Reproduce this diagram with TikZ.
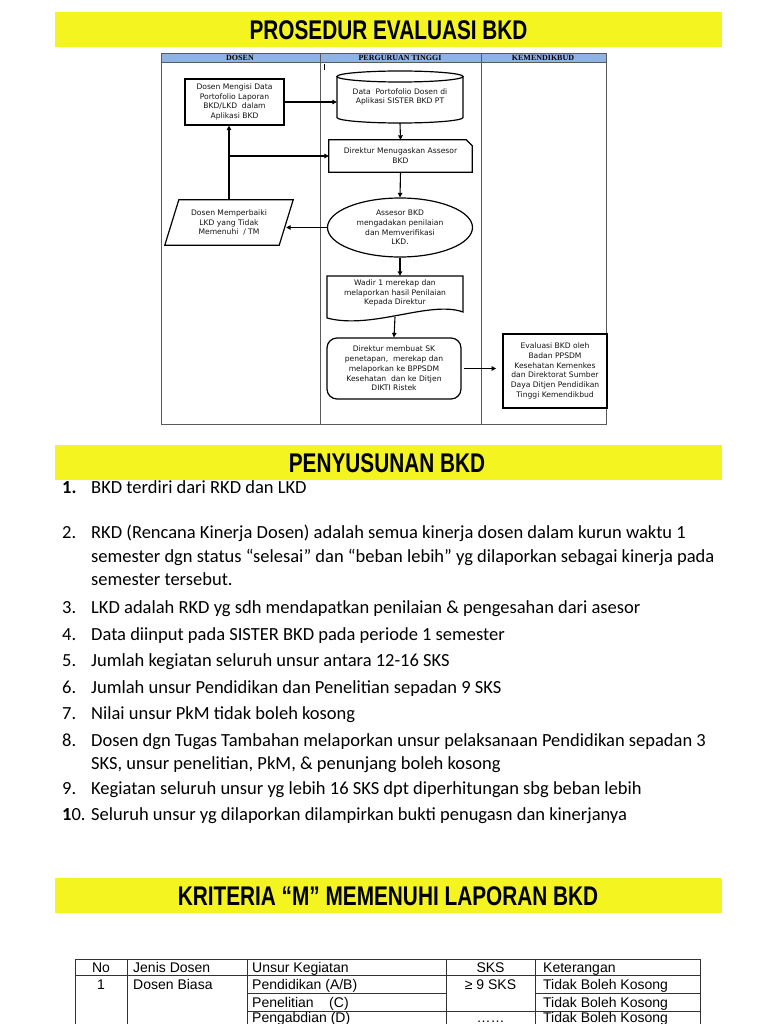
\documentclass[tikz,border=0pt]{standalone}
\usepackage{fontspec}
\usepackage{graphicx}
\setmainfont{Carlito}
\newfontfamily\arialf{Liberation Sans}
\newfontfamily\flowf{DejaVu Sans}
\newfontfamily\serf{Liberation Serif}
\usetikzlibrary{arrows.meta,shapes.geometric}
\definecolor{barYellow}{RGB}{244,245,32}
\definecolor{hdrblue}{RGB}{141,180,226}
\definecolor{framec}{RGB}{90,90,90}
\definecolor{ftext}{RGB}{20,20,20}
\begin{document}
\begin{tikzpicture}[x=1pt,y=-1pt,
  headbar/.style={fill=barYellow,draw=none},
  headtxt/.style={font=\arialf\bfseries\fontsize{27}{29}\selectfont,inner sep=0,text=black},
  colhead/.style={font=\serf\bfseries\fontsize{8}{9}\selectfont,inner sep=0},
  ftxt/.style={align=center,font=\flowf\fontsize{7.6}{9.8}\selectfont,inner sep=0,text=ftext},
  fbox/.style={ftxt,draw=black,line width=1.2pt},
  shp/.style={line width=1.2pt},
  arr/.style={-{Triangle[length=4.5pt,width=4.5pt]},line width=1.1pt},
  num/.style={anchor=base west,inner sep=0,font=\fontsize{18.5}{23}\selectfont},
  itm/.style={anchor=base west,inner sep=0,font=\fontsize{18.5}{23}\selectfont},
  tbl/.style={font=\arialf\fontsize{14}{16}\selectfont,inner sep=0,anchor=base west},
  tblc/.style={font=\arialf\fontsize{14}{16}\selectfont,inner sep=0,anchor=base},
  rulec/.style={draw=black!80,line width=0.8pt}
]
\useasboundingbox[fill=white] (0,0) rectangle (768,1024);

% ---------- heading bars ----------
\path[headbar] (55,12) rectangle (722,47);
\node[headtxt] (h1) at (388.5,30) {\scalebox{0.77}[1]{PROSEDUR EVALUASI BKD}};
\path[headbar] (55,445) rectangle (722,480);
\node[headtxt] (h2) at (387,463) {\scalebox{0.77}[1]{PENYUSUNAN BKD}};
\path[headbar] (55,878) rectangle (722,913);
\node[headtxt] (h3) at (388,896) {\scalebox{0.77}[1]{KRITERIA “M” MEMENUHI LAPORAN BKD}};

% ---------- flowchart frame ----------
\fill[hdrblue] (161,53) rectangle (606,62);
\draw[framec,line width=0.8pt] (161,53) rectangle (606,424);
\draw[framec,line width=0.8pt] (161,62) -- (606,62);
\draw[framec,line width=0.8pt] (320,53) -- (320,424);
\draw[framec,line width=0.8pt] (481,53) -- (481,424);
\node[colhead] (c1) at (240,57.8) {DOSEN};
\node[colhead] (c2) at (400,57.8) {PERGURUAN TINGGI};
\node[colhead] (c3) at (543,57.8) {KEMENDIKBUD};
\draw[line width=0.8pt] (324,64) -- (324,70);

% ---------- flowchart nodes ----------
\node[fbox,minimum width=99,minimum height=46] (n1) at (234.5,102)
  {Dosen Mengisi Data\\Portofolio Laporan\\BKD/LKD\ \ dalam\\Aplikasi BKD};

\node[ftxt,minimum width=126,minimum height=52] (n2) at (400,97)
  {Data\ \ Portofolio Dosen di\\Aplikasi SISTER BKD PT};
\draw[shp] (337,76.5) -- (337,117.5) arc[start angle=180,end angle=0,x radius=63,y radius=5.5] -- (463,76.5);
\draw[shp] (400,76.5) ellipse[x radius=63,y radius=5.5];

\node[ftxt,minimum width=143,minimum height=32] (n3) at (400.5,156)
  {Direktur Menugaskan Assesor\\BKD};
\draw[shp] (n3.south west) -- (n3.north west) -- ([xshift=-6pt]n3.north east)
  -- ([yshift=-6pt]n3.north east) -- (n3.south east) -- cycle;

\node[fbox,ellipse,minimum width=145,minimum height=59,inner sep=0] (n4) at (400,227.5)
  {Assesor BKD\\mengadakan penilaian\\dan Memverifikasi\\LKD.};

\node[ftxt,minimum width=114,minimum height=45] (n5) at (229,222.5)
  {Dosen Memperbaiki\\LKD yang Tidak\\Memenuhi\ \ / TM};
\draw[shp] ([xshift=7pt]n5.north west) -- ([xshift=7pt]n5.north east)
  -- ([xshift=-7pt]n5.south east) -- ([xshift=-7pt]n5.south west) -- cycle;

\node[ftxt,minimum width=136,minimum height=34] (n6) at (395,293)
  {Wadir 1 merekap dan\\melaporkan hasil Penilaian\\Kepada Direktur};
\draw[shp] (327,276) -- (463,276) -- (463,312)
  .. controls (430,300) and (372,330) .. (327,318) -- cycle;
\coordinate (n6b) at (395,317);

\node[fbox,rounded corners=10pt,minimum width=134,minimum height=61] (n7) at (394,368.5)
  {Direktur membuat SK\\penetapan,\ \ merekap dan\\melaporkan ke BPPSDM\\Kesehatan\ \ dan ke Ditjen\\DIKTI Ristek};

\node[fbox,line width=1.8pt,minimum width=104,minimum height=74] (n8) at (555,371)
  {Evaluasi BKD oleh\\Badan PPSDM\\Kesehatan Kemenkes\\dan Direktorat Sumber\\Daya Ditjen Pendidikan\\Tinggi Kemendikbud};

% ---------- flowchart connectors ----------
\draw[arr] (n1.east) -- (n1.east -| n2.west);
\draw[arr] (n2.south) -- (n3.north);
\draw[arr] (n3.south) -- (n4.north);
\draw[arr] (n4.west) -- (n5.east |- n4.west);
\draw[arr] (n5.north) -- (n5.north |- n1.south);
\draw[arr] (n5.north |- n3.west) -- (n3.west);
\draw[arr] (n4.south) -- (n4.south |- n6.north);
\draw[arr] (n6b) -- (n7.north);
\draw[arr,shorten <=2pt,shorten >=6pt] (n7.east) -- (n7.east -| n8.west);

% ---------- list ----------
\node[num] (k1) at (62,493) {\textbf{1.}};
\node[itm] (t1) at (91,493) {BKD terdiri dari RKD dan LKD};
\node[num] (k2) at (62,538) {2.};
\node[itm] (t2a) at (91,538) {RKD (Rencana Kinerja Dosen) adalah semua kinerja dosen dalam kurun waktu 1};
\node[itm] (t2b) at (91,562) {semester dgn status “selesai” dan “beban lebih” yg dilaporkan sebagai kinerja pada};
\node[itm] (t2c) at (91,585) {semester tersebut.};
\node[num] (k3) at (62,613) {3.};
\node[itm] (t3) at (91,613) {LKD adalah RKD yg sdh mendapatkan penilaian \& pengesahan dari asesor};
\node[num] (k4) at (62,640) {4.};
\node[itm] (t4) at (91,640) {Data diinput pada SISTER BKD pada periode 1 semester};
\node[num] (k5) at (62,666) {5.};
\node[itm] (t5) at (91,666) {Jumlah kegiatan seluruh unsur antara 12-16 SKS};
\node[num] (k6) at (62,693) {6.};
\node[itm] (t6) at (91,693) {Jumlah unsur Pendidikan dan Penelitian sepadan 9 SKS};
\node[num] (k7) at (62,719) {7.};
\node[itm] (t7) at (91,719) {Nilai unsur PkM tidak boleh kosong};
\node[num] (k8) at (62,746) {8.};
\node[itm] (t8a) at (91,746) {Dosen dgn Tugas Tambahan melaporkan unsur pelaksanaan Pendidikan sepadan 3};
\node[itm] (t8b) at (91,769) {SKS, unsur penelitian, PkM, \& penunjang boleh kosong};
\node[num] (k9) at (62,794) {9.};
\node[itm] (t9) at (91,794) {Kegiatan seluruh unsur yg lebih 16 SKS dpt diperhitungan sbg beban lebih};
\node[num] (k10) at (62,820) {\textbf{1}0.};
\node[itm] (t10) at (91,820) {Seluruh unsur yg dilaporkan dilampirkan bukti penugasn dan kinerjanya};

% ---------- table ----------
\draw[rulec] (75,959) -- (700,959);
\draw[rulec] (75,975) -- (700,975);
\draw[rulec] (247,993) -- (446,993);
\draw[rulec] (535,993) -- (700,993);
\draw[rulec] (247,1011) -- (700,1011);
\foreach \xx in {75,127,247,446,535,700} {\draw[rulec] (\xx,959) -- (\xx,1026);}
\node[tblc] (r0a) at (101,972) {No};
\node[tbl] (r0b) at (133,972) {Jenis Dosen};
\node[tbl] (r0c) at (252,972) {Unsur Kegiatan};
\node[tblc] (r0d) at (490.5,972) {SKS};
\node[tbl] (r0e) at (543,972) {Keterangan};
\node[tblc] (r1a) at (101,989) {1};
\node[tbl] (r1b) at (133,989) {Dosen Biasa};
\node[tbl] (r1c) at (252,989) {Pendidikan (A/B)};
\node[tblc] (r1d) at (490.5,989) {≥ 9 SKS};
\node[tbl] (r1e) at (543,989) {Tidak Boleh Kosong};
\node[tbl] (r2c) at (252,1007) {Penelitian\ \ \ \ (C)};
\node[tbl] (r2e) at (543,1007) {Tidak Boleh Kosong};
\node[tbl] (r3c) at (252,1022) {Pengabdian (D)};
\node[tblc] (r3d) at (490.5,1022) {……};
\node[tbl] (r3e) at (543,1022) {Tidak Boleh Kosong};
\end{tikzpicture}
\end{document}
